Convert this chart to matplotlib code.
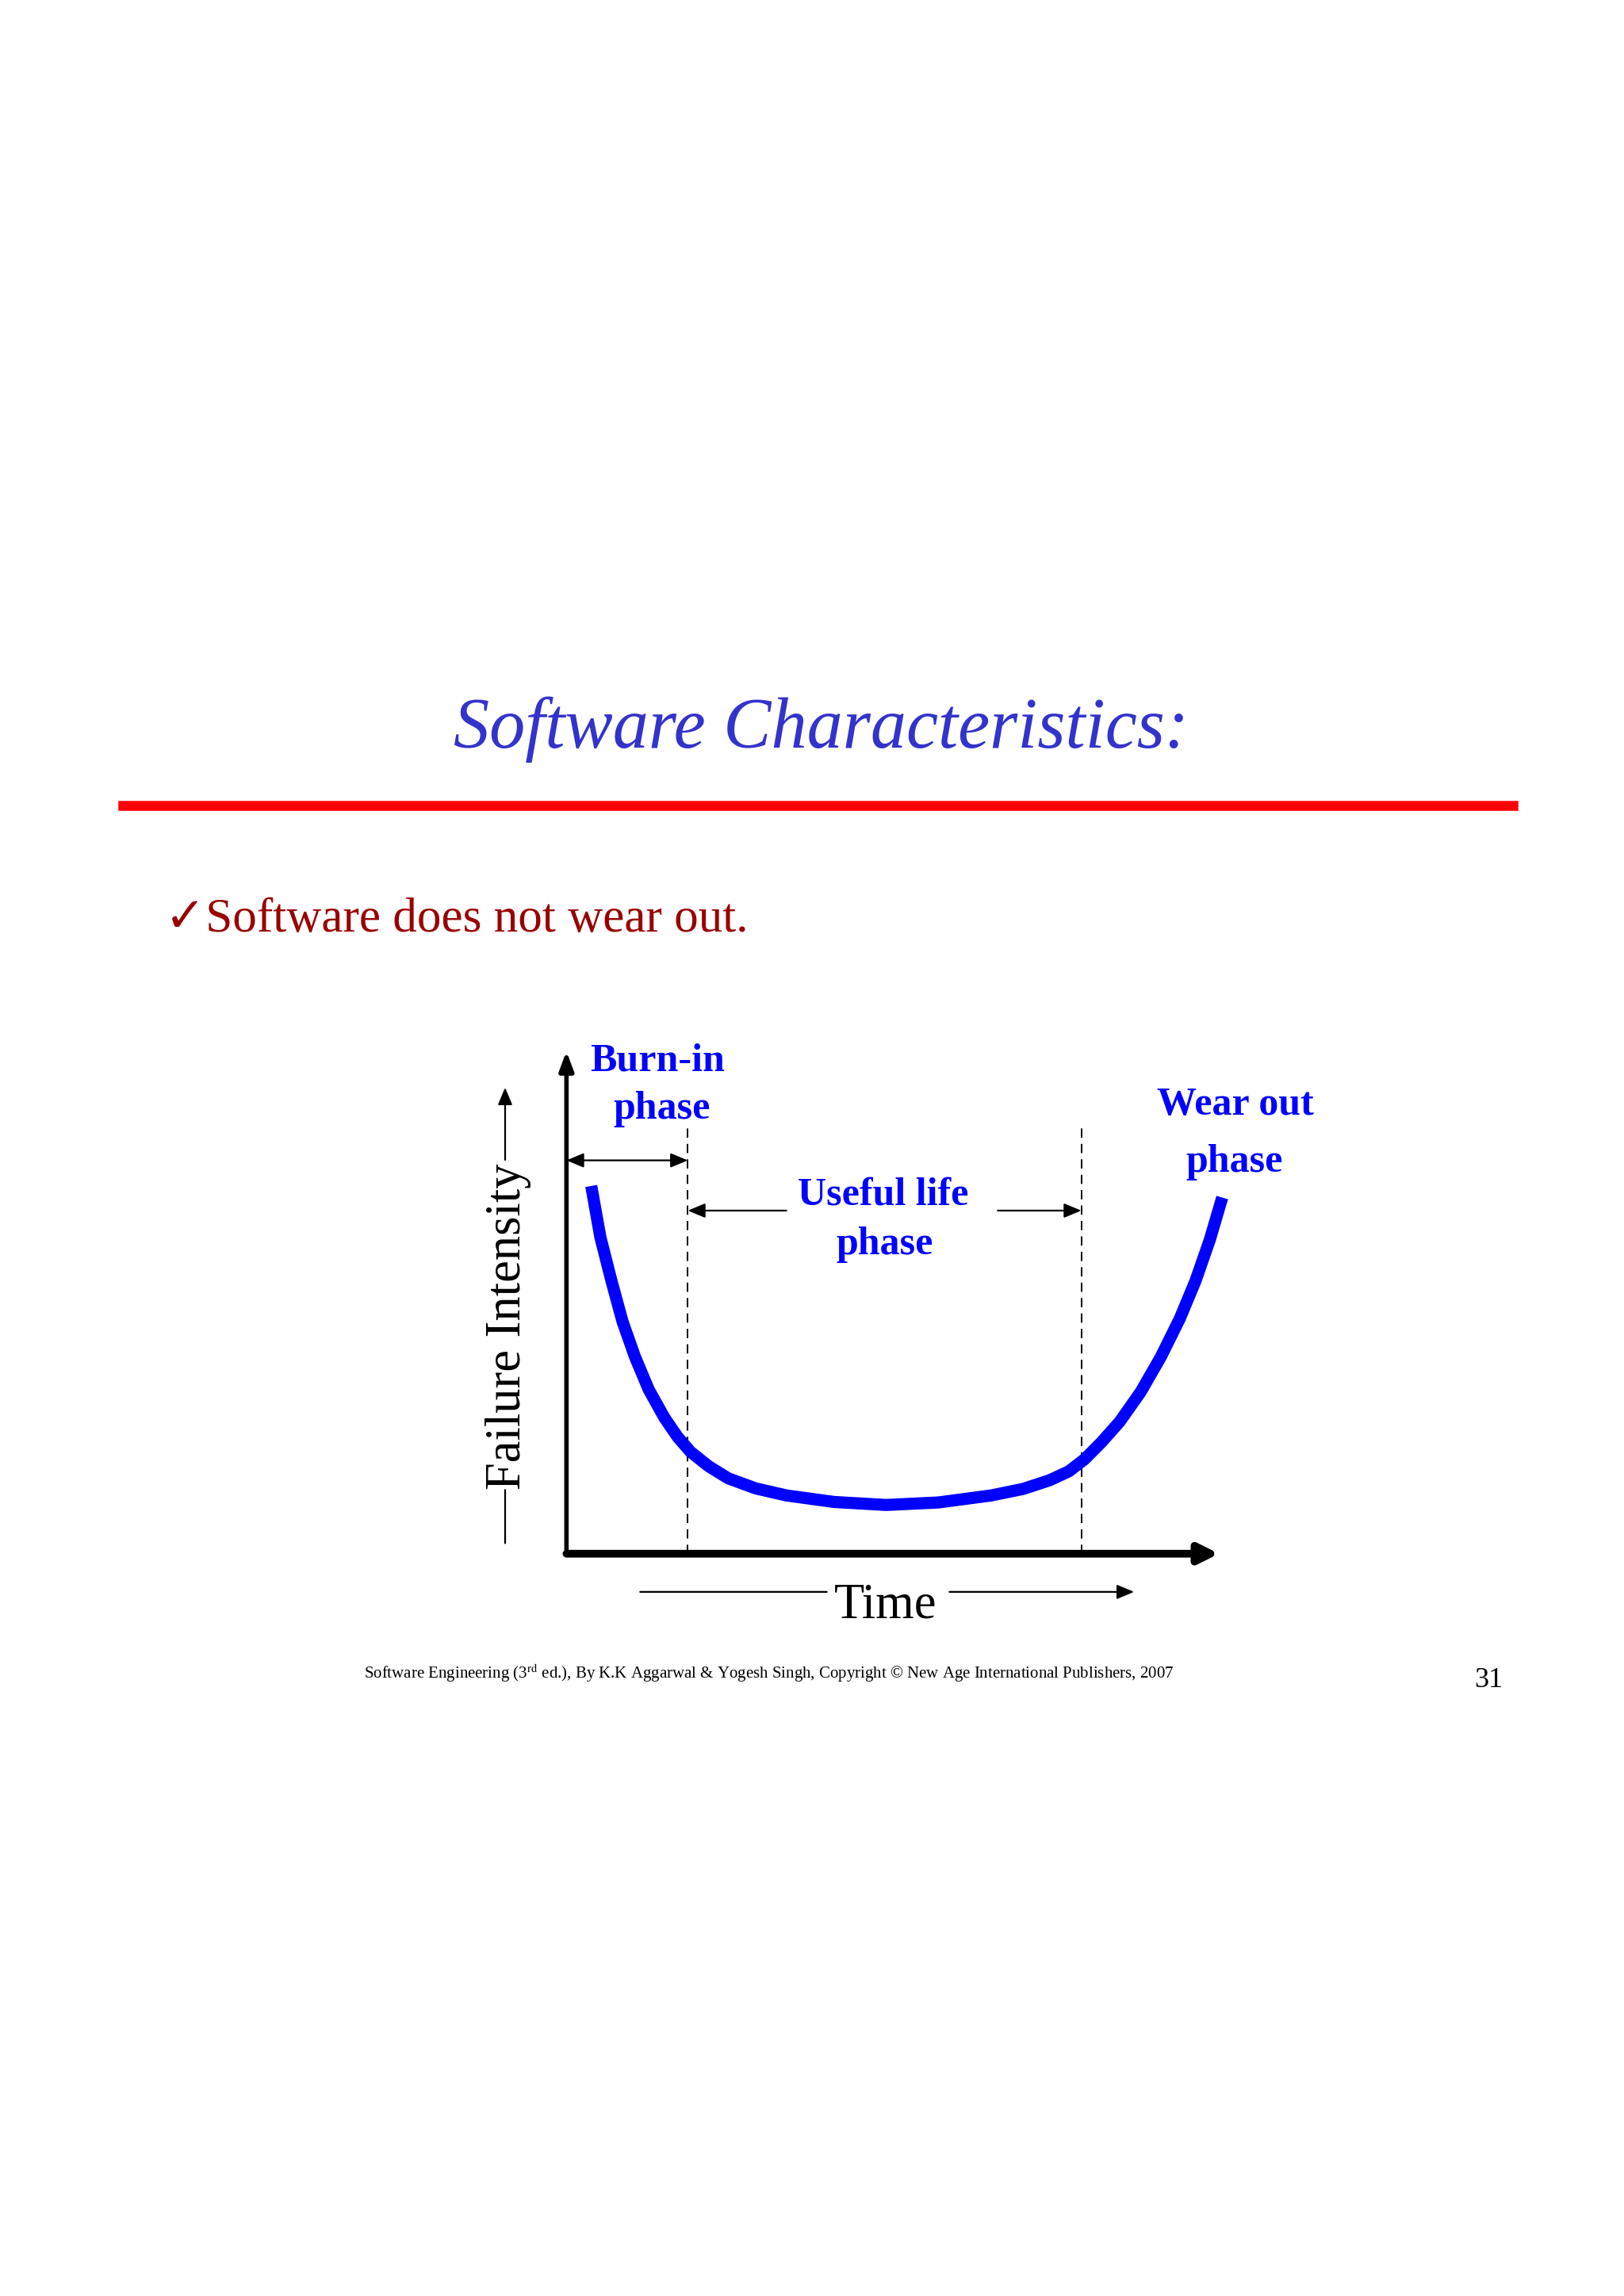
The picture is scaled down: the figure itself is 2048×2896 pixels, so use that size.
import matplotlib.pyplot as plt
from matplotlib.lines import Line2D

plt.rcParams['font.family'] = ['Liberation Serif', 'DejaVu Sans']
plt.rcParams['mathtext.fontset'] = 'stix'

# bathtub curve (time 0-100, failure intensity 0-100)
time_vals = [3.8, 5.2, 6.9, 8.6, 10.5, 12.6, 15.0, 17.0, 19.0, 21.8, 24.8, 29.0,
             33.7, 41.0, 49.0, 57.0, 65.1, 70.0, 74.0, 77.0, 79.4, 82.0, 84.8,
             88.0, 91.1, 94.0, 96.4, 98.6, 100.5]
intensity_vals = [73.2, 63.0, 54.3, 46.2, 39.2, 32.7, 27.1, 23.3, 20.3, 17.4, 15.0, 13.0,
                  11.6, 10.3, 9.7, 10.2, 11.6, 12.9, 14.6, 16.4, 18.8, 22.2, 26.3,
                  32.2, 39.2, 46.8, 54.3, 62.5, 70.9]

burn_in_end = 18.6
wear_out_start = 78.9
divider_top = 85.4
burn_arrow_y = 78.3
useful_arrow_y = 68.3
useful_arrow_from = [33.7, 66.1]

phase_labels = [("Burn-in", 14.0, 96.2), ("phase", 14.6, 86.6),
                ("Useful life", 48.5, 69.4), ("phase", 48.8, 59.6),
                ("Wear out", 102.5, 87.4), ("phase", 102.3, 76.1)]

title = "Software Characteristics:"
bullet = "\u2713Software does not wear out."
footer = "Software Engineering (3$^{\\mathrm{rd}}$ ed.), By K.K Aggarwal & Yogesh Singh, Copyright \u00a9 New Age International Publishers, 2007"
page_no = "31"

fig = plt.figure(figsize=(20.48, 28.96), dpi=100)
fig.patch.set_facecolor('white')

# slide heading
fig.text(0.5055, 0.6823, title, ha='center', va='center', fontsize=65,
         style='italic', color='#3333CC')
fig.add_artist(Line2D([155 / 2048, 1908 / 2048], [0.6492, 0.6492], color='#FF0000', lw=9))
fig.text(0.1016, 0.5943, bullet, ha='left', va='baseline', fontsize=44, color='#990000')

ax = fig.add_axes([0.3488, 0.3233, 0.4018, 0.2188])
ax.set_xlim(0, 100)
ax.set_ylim(0, 100)
ax.axis('off')

# axes with arrow heads
ax.annotate('', xy=(1.0, 0), xytext=(0, 0), xycoords='axes fraction',
            arrowprops=dict(arrowstyle='-|>,head_length=0.8,head_width=0.4', lw=7,
                            color='black', shrinkA=0, shrinkB=0, mutation_scale=18))
ax.annotate('', xy=(0, 1.0), xytext=(0, 0), xycoords='axes fraction',
            arrowprops=dict(arrowstyle='-|>,head_length=0.8,head_width=0.3', lw=4,
                            color='black', shrinkA=0, shrinkB=0, mutation_scale=18))

ax.plot(time_vals, intensity_vals, color='#0000FF', lw=11, solid_capstyle='butt',
        solid_joinstyle='round', clip_on=False, zorder=3)

for b in [burn_in_end, wear_out_start]:
    ax.plot([b, b], [0, divider_top], color='black', lw=1.4, ls=(0, (6, 4)), clip_on=False)

arrow_kw = dict(lw=1.6, color='black', shrinkA=0, shrinkB=0, mutation_scale=22)
ax.annotate('', xy=(burn_in_end, burn_arrow_y), xytext=(0, burn_arrow_y),
            arrowprops=dict(arrowstyle='<|-|>,head_length=0.6,head_width=0.25', **arrow_kw))
ax.annotate('', xy=(burn_in_end, useful_arrow_y), xytext=(useful_arrow_from[0], useful_arrow_y),
            arrowprops=dict(arrowstyle='-|>,head_length=0.6,head_width=0.25', **arrow_kw))
ax.annotate('', xy=(wear_out_start, useful_arrow_y), xytext=(useful_arrow_from[1], useful_arrow_y),
            arrowprops=dict(arrowstyle='-|>,head_length=0.6,head_width=0.25', **arrow_kw))

for txt, x, y in phase_labels:
    ax.text(x, y, txt, ha='center', va='baseline', fontsize=36, fontweight='bold',
            color='#0000FF', clip_on=False)

# axis titles with their arrows
ax.text(-0.089, 0.452, "Failure Intensity", transform=ax.transAxes, rotation=90,
        ha='center', va='center', fontsize=45)
ax.annotate('', xy=(-0.094, 0.928), xytext=(-0.094, 0.784), xycoords='axes fraction',
            arrowprops=dict(arrowstyle='-|>,head_length=0.6,head_width=0.25', **arrow_kw))
ax.annotate('', xy=(-0.094, 0.127), xytext=(-0.094, 0.021), xycoords='axes fraction',
            arrowprops=dict(arrowstyle='-', **arrow_kw))

ax.text(0.489, -0.127, "Time", transform=ax.transAxes, ha='center', va='baseline', fontsize=45)
ax.annotate('', xy=(0.399, -0.076), xytext=(0.113, -0.076), xycoords='axes fraction',
            arrowprops=dict(arrowstyle='-', **arrow_kw))
ax.annotate('', xy=(0.870, -0.076), xytext=(0.587, -0.076), xycoords='axes fraction',
            arrowprops=dict(arrowstyle='-|>,head_length=0.6,head_width=0.25', **arrow_kw))

# footer
fig.text(0.4737, 0.269, footer, ha='center', va='baseline', fontsize=15)
fig.text(0.9165, 0.2683, page_no, ha='center', va='center', fontsize=26)

fig.savefig('out.png', dpi=100, facecolor='white')
